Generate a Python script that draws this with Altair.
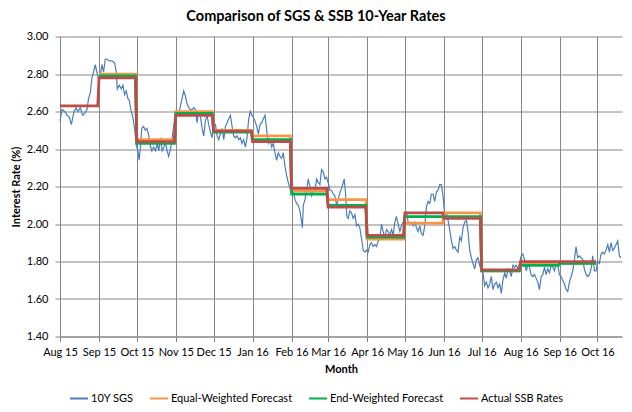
import altair as alt
import pandas as pd

# ---------------- data ----------------
months = ["2015-08", "2015-09", "2015-10", "2015-11", "2015-12", "2016-01", "2016-02",
          "2016-03", "2016-04", "2016-05", "2016-06", "2016-07", "2016-08", "2016-09"]
actual_ssb = [2.63, 2.78, 2.44, 2.58, 2.495, 2.44, 2.19, 2.09, 1.94, 2.06, 2.03, 1.755, 1.80, 1.80]
equal_weighted = [None, 2.80, 2.45, 2.60, 2.50, 2.47, 2.175, 2.13, 1.92, 2.005, 2.06, 1.75, 1.79, 1.79]
end_weighted = [None, 2.79, 2.43, 2.59, 2.49, 2.45, 2.16, 2.10, 1.93, 2.04, 2.04, 1.75, 1.78, 1.79]

# 10Y SGS yield: days since 1 Aug 2015, value (%)
sgs_day = [0, 1.6, 3.7, 5.6, 7.4, 9.0, 10.8, 12.7, 14.3, 16.1, 18.0, 19.6, 21.4, 22.7, 24.1, 25.4,
           26.7, 28.0, 29.3, 30.7, 32.0, 33.3, 34.6, 36.0, 37.3, 39.1, 41.2, 43.4, 44.7, 45.5, 47.1,
           48.7, 50.0, 51.3, 52.6, 53.9, 55.0, 56.6, 57.9, 59.2, 60.6, 61.9, 62.9, 64.0, 65.0, 66.4,
           67.7, 69.0, 70.3, 71.7, 73.0, 74.3,
           75.9, 77.2, 78.5, 79.8, 81.2, 82.5, 83.8, 85.1, 86.4, 87.8, 89.1, 90.4, 91.7, 93.1, 94.4,
           95.7, 97.0, 98.3, 99.7, 101.0, 102.3, 103.6, 104.9, 106.3, 107.6, 108.9, 110.2, 111.6,
           112.9, 114.2, 115.5, 116.8, 118.2, 119.5, 120.8, 122.1, 123.5, 124.8, 126.1, 127.4,
           128.8, 130.1, 131.4, 132.7, 134.0, 135.4, 136.7, 138.0, 139.3, 140.7, 142.0, 143.3,
           144.6, 145.9, 147.3, 148.6, 149.9, 151.2,
           152.3, 153.6, 154.9, 156.3, 157.6, 158.9, 160.2, 161.5, 162.9, 164.2, 165.5, 166.8,
           168.2, 169.5, 170.8, 172.1, 173.4, 174.8, 176.1, 177.4, 178.7, 180.0, 181.4, 182.7,
           184.0, 185.3, 186.7, 188.0, 189.3, 190.6, 192.0, 192.6, 193.3, 194.6, 195.9, 197.2,
           198.6, 199.9, 201.2, 202.5, 203.9, 205.2, 206.5, 207.8, 209.1, 210.5, 211.8, 213.1,
           214.4, 215.7, 217.1, 218.4, 219.7, 221.0,
           222.4, 223.7, 225.0, 225.8, 226.9, 227.9, 229.0, 230.3, 231.6, 232.9, 234.3, 235.6,
           236.9, 238.2, 239.6, 240.9, 242.2, 243.5, 244.8, 246.2, 247.5, 248.8, 250.1, 251.5,
           252.8, 254.1, 255.4, 256.7, 258.1, 259.4, 260.7, 262.0, 263.4, 264.7, 266.0, 267.3,
           268.6, 270.0, 271.3, 272.6, 273.9, 275.3, 276.6, 277.9, 279.2, 280.5, 281.9, 283.2,
           284.5, 285.8, 287.1, 288.5, 289.8, 291.1, 292.4, 293.8,
           295.1, 296.4, 297.7, 299.1, 300.4, 301.7, 303.0, 304.3, 305.7, 307.0, 308.3, 309.6,
           311.0, 312.3, 313.6, 314.9, 316.2, 317.6, 318.9, 320.2, 321.5, 322.9, 324.2, 325.5,
           326.8, 328.1, 329.5, 330.8, 332.1, 333.4, 334.8, 336.1, 337.4, 338.7, 340.0, 341.4,
           342.7, 344.0, 345.3, 346.7, 348.0, 349.3, 350.6, 351.9, 353.3, 354.6, 355.9, 357.2,
           358.6, 359.9, 361.2, 362.5, 363.9,
           365.1, 366.4, 367.7, 369.0, 370.4, 371.7, 373.0, 374.3, 375.6, 377.0, 378.3, 379.6,
           380.9, 382.3, 383.6, 384.9, 386.2, 387.5, 388.9, 390.2, 391.5, 392.8, 394.2, 395.5,
           396.8, 398.1, 399.4, 400.8, 402.1, 403.4, 404.7, 406.1, 407.4, 408.7, 410.0, 411.3,
           412.7, 414.0, 415.3, 416.6, 418.0, 419.3, 420.6, 421.9, 423.2, 424.6, 425.9, 427.2,
           428.5, 429.9, 431.2, 432.5, 433.8, 435.2, 436.5, 437.8, 439.1, 440.4, 441.8, 443.1,
           444.4, 445.7]
sgs_val = [2.55, 2.61, 2.60, 2.58, 2.57, 2.53, 2.59, 2.62, 2.60, 2.62, 2.58, 2.59, 2.61, 2.67, 2.70, 2.78,
           2.81, 2.85, 2.81, 2.77, 2.79, 2.85, 2.81, 2.88, 2.88, 2.87, 2.87, 2.86, 2.81, 2.72, 2.74,
           2.72, 2.74, 2.69, 2.71, 2.67, 2.66, 2.60, 2.57, 2.51, 2.42, 2.39, 2.34, 2.42, 2.51, 2.52,
           2.50, 2.51, 2.48, 2.42, 2.39, 2.41,
           2.39, 2.43, 2.39, 2.46, 2.39, 2.41, 2.43, 2.39, 2.36, 2.40, 2.46, 2.53, 2.58, 2.60, 2.59,
           2.63, 2.67, 2.71, 2.68, 2.64, 2.62, 2.61, 2.61, 2.62, 2.61, 2.54, 2.60, 2.57,
           2.51, 2.47, 2.55, 2.58, 2.53, 2.49, 2.46, 2.54, 2.53, 2.47, 2.45, 2.48,
           2.51, 2.45, 2.52, 2.54, 2.56, 2.58, 2.52, 2.47, 2.46, 2.47, 2.45, 2.46,
           2.43, 2.45, 2.41, 2.46, 2.56, 2.60,
           2.58, 2.57, 2.55, 2.52, 2.48, 2.53, 2.54, 2.56, 2.58, 2.50, 2.43, 2.45,
           2.41, 2.43, 2.38, 2.34, 2.38, 2.36, 2.35, 2.38, 2.31, 2.26, 2.22, 2.19,
           2.22, 2.18, 2.13, 2.11, 2.10, 2.07, 2.01, 1.98, 2.10, 2.13, 2.18, 2.24,
           2.20, 2.15, 2.17, 2.18, 2.24, 2.22, 2.21, 2.29, 2.28, 2.24, 2.25, 2.22,
           2.18, 2.18, 2.16, 2.15, 2.10, 2.13,
           2.17, 2.19, 2.22, 2.24, 2.16, 2.04, 2.03, 2.07, 2.06, 2.03, 2.05, 1.99,
           2.00, 1.98, 1.92, 1.86, 1.85, 1.86, 1.85, 1.89, 1.90, 1.88, 1.89, 1.88,
           1.91, 1.92, 2.00, 1.96, 1.93, 1.97, 1.96, 1.94, 1.97, 1.94, 2.01, 2.04,
           2.00, 1.96, 1.99, 2.01, 2.04, 2.06, 2.01, 2.00, 2.01, 1.99, 2.01, 1.98,
           1.96, 1.99, 1.95, 1.94, 1.99, 2.09, 2.12, 2.11,
           2.16, 2.16, 2.12, 2.17, 2.18, 2.21, 2.21, 2.15, 2.05, 2.06, 2.02, 1.97,
           1.91, 1.87, 1.88, 1.86, 1.85, 1.93, 1.91, 1.98, 2.01, 2.02, 1.96, 1.86,
           1.82, 1.79, 1.76, 1.81, 1.82, 1.78, 1.75, 1.74, 1.67, 1.69, 1.66, 1.68,
           1.72, 1.65, 1.68, 1.69, 1.66, 1.68, 1.63, 1.70, 1.74, 1.71, 1.76, 1.75,
           1.72, 1.78, 1.77, 1.78, 1.76,
           1.79, 1.83, 1.84, 1.81, 1.75, 1.78, 1.77, 1.73, 1.72, 1.73, 1.71, 1.69,
           1.65, 1.72, 1.73, 1.77, 1.73, 1.76, 1.74, 1.78, 1.77, 1.75, 1.79, 1.78,
           1.73, 1.72, 1.70, 1.68, 1.65, 1.64, 1.69, 1.72, 1.75, 1.81, 1.88, 1.82,
           1.83, 1.82, 1.81, 1.76, 1.73, 1.72, 1.73, 1.76, 1.83, 1.75, 1.75, 1.80,
           1.79, 1.84, 1.85, 1.84, 1.86, 1.89, 1.85, 1.90, 1.86, 1.87, 1.89, 1.91,
           1.83, 1.82]

series_names = ["10Y SGS", "Equal-Weighted Forecast", "End-Weighted Forecast", "Actual SSB Rates"]
series_colors = ["#4A7EBB", "#F79646", "#00B050", "#BE4B48"]
y_ticks = [1.4, 1.6, 1.8, 2.0, 2.2, 2.4, 2.6, 2.8, 3.0]

# ---------------- build tables ----------------
FMT = "%Y-%m-%dT%H:%M:%S"
base = pd.Timestamp("2015-08-01")
sgs_df = pd.DataFrame({
    "date": [(base + pd.to_timedelta(d, unit="D")).strftime(FMT) for d in sgs_day],
    "value": sgs_val,
    "series": "10Y SGS",
})


def step_table(name, values):
    rows = []
    for m, v in zip(months, values):
        if v is None:
            continue
        start = pd.Timestamp(m + "-01")
        end = start + pd.offsets.MonthBegin(1) - pd.Timedelta(days=1)
        rows.append({"date": start.strftime(FMT), "value": v, "series": name})
        rows.append({"date": end.strftime(FMT), "value": v, "series": name})
    return pd.DataFrame(rows)


FONT = "Lato"
GRID = "#868686"

color_scale = alt.Scale(domain=series_names, range=series_colors)
legend = alt.Legend(
    orient="none", legendX=9, legendY=352, direction="horizontal", title=None,
    symbolType="stroke", symbolSize=324, symbolStrokeWidth=2, labelFont=FONT,
    labelFontSize=11, labelColor="#000000", columnPadding=12, labelOffset=2, padding=0,
)

x_ticks = [alt.DateTime(year=int(m[:4]), month=int(m[5:]), date=1) for m in months] + [
    alt.DateTime(year=2016, month=10, date=1)]

x_enc = alt.X(
    "date:T",
    scale=alt.Scale(domain=[alt.DateTime(year=2015, month=8, date=1),
                            alt.DateTime(year=2016, month=10, date=20, hours=12)]),
    axis=alt.Axis(values=x_ticks, format="%b %y", labelAngle=0, labelOverlap=False,
                  labelFlush=False, title="Month", tickSize=5, labelPadding=5,
                  titlePadding=6),
)
y_enc = alt.Y(
    "value:Q",
    scale=alt.Scale(domain=[1.4, 3.0], nice=False, zero=False),
    axis=alt.Axis(values=y_ticks, format=".2f", title="Interest Rate (%)", tickSize=5,
                  labelPadding=7, titlePadding=5, labelFlush=False),
)
c_enc = alt.Color("series:N", scale=color_scale, legend=legend)

sgs_layer = alt.Chart(sgs_df).mark_line(strokeWidth=1.2).encode(x=x_enc, y=y_enc, color=c_enc)
eq_layer = alt.Chart(step_table("Equal-Weighted Forecast", equal_weighted)).mark_line(
    strokeWidth=2.75).encode(x=x_enc, y=y_enc, color=c_enc)
end_layer = alt.Chart(step_table("End-Weighted Forecast", end_weighted)).mark_line(
    strokeWidth=2.75).encode(x=x_enc, y=y_enc, color=c_enc)
ssb_layer = alt.Chart(step_table("Actual SSB Rates", actual_ssb)).mark_line(
    strokeWidth=2.75).encode(x=x_enc, y=y_enc, color=c_enc)

chart = (
    alt.layer(sgs_layer, eq_layer, end_layer, ssb_layer)
    .properties(
        width=562, height=300,
        autosize=alt.AutoSizeParams(type="none"),
        padding={"left": 52, "top": 28.5, "right": 2, "bottom": 70},
        title=alt.TitleParams("Comparison of SGS & SSB 10-Year Rates", font=FONT, fontSize=14.5,
                              fontWeight="bold", color="#000000", anchor="middle", dx=-25,
                              offset=6),
        background="#ffffff",
    )
    .configure_view(stroke=None)
    .configure_axis(
        labelFont=FONT, labelFontSize=11, labelColor="#000000",
        titleFont=FONT, titleFontSize=11, titleFontWeight="bold", titleColor="#000000",
        grid=True, gridColor=GRID, gridWidth=1, gridOpacity=1,
        domainColor=GRID, domainWidth=1, tickColor=GRID, tickWidth=1,
    )
)

chart.save("out.html", embed_options={"renderer": "svg", "actions": False})
